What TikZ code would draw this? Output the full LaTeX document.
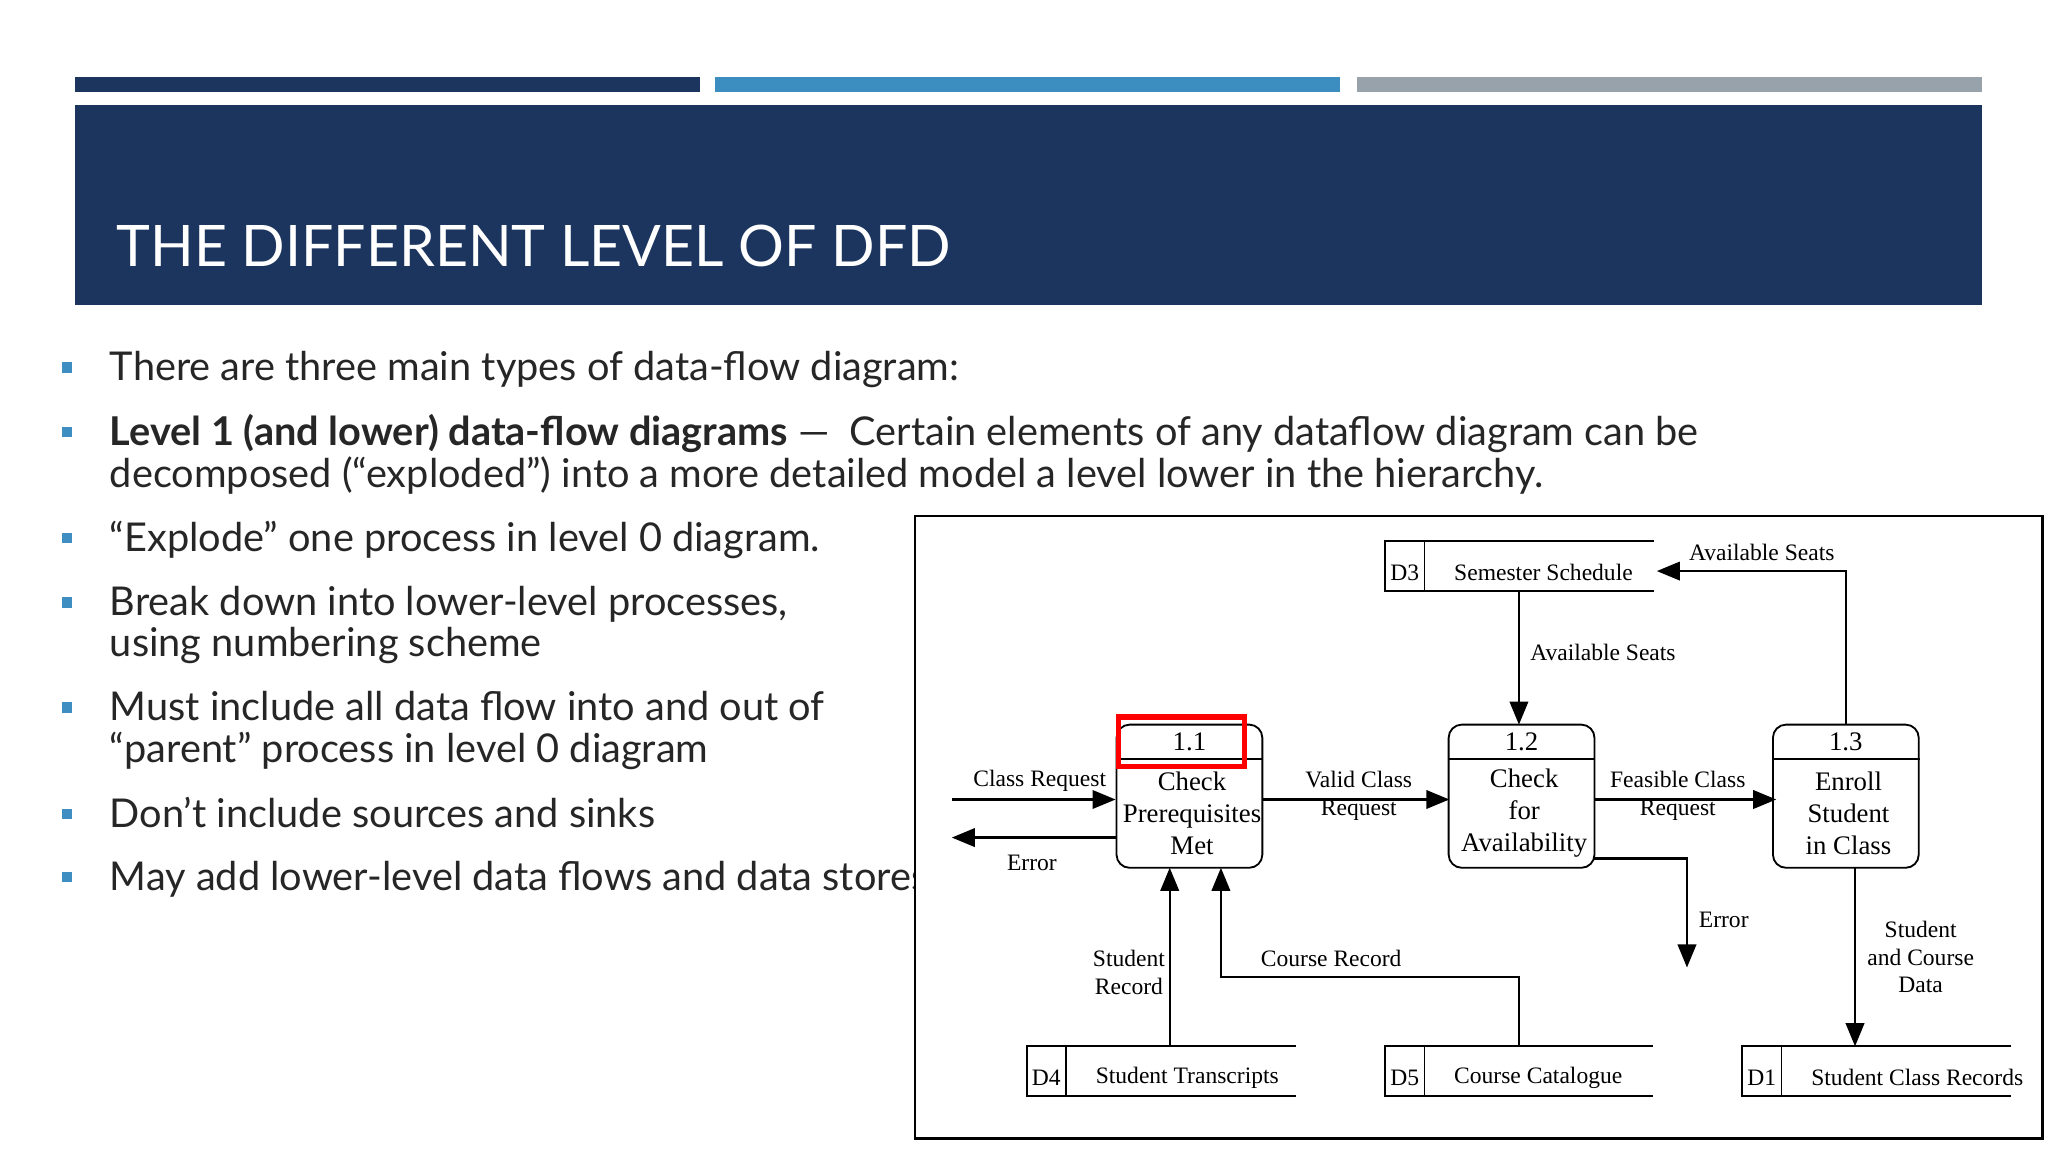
\documentclass[tikz,border=0pt]{standalone}
\usepackage{fontspec}
\setmainfont{Lato}
\newfontfamily\dfdfont{Liberation Serif}
\usetikzlibrary{arrows.meta,calc}
\definecolor{navy}{HTML}{1C355E}
\definecolor{midblue}{HTML}{3C8DC0}
\definecolor{bargray}{HTML}{98A2AA}
\definecolor{bul}{HTML}{3E8EC2}
\definecolor{txt}{HTML}{262626}
\begin{document}
\begin{tikzpicture}[x=0.01cm,y=-0.01cm,
  bullettext/.style={anchor=base west,inner sep=0,font=\fontsize{8.6}{8.6}\selectfont,text=txt,align=left},
  bsq/.style={fill=bul,minimum size=0.08cm,inner sep=0},
  proc/.style={draw,rounded corners=0.1cm,minimum width=1.11cm,minimum height=1.09cm,inner sep=0},
  flow/.style={-{Triangle[length=5,width=4]},line width=0.5pt},
  lbl/.style={font=\dfdfont\fontsize{5.1}{6}\selectfont,inner sep=0,align=center},
  slbl/.style={font=\dfdfont\fontsize{5.1}{6}\selectfont,inner sep=0},
  ptxt/.style={font=\dfdfont\fontsize{5.8}{7}\selectfont,inner sep=0,align=center}]
\useasboundingbox (0,0) rectangle (1560,877);
\fill[white] (0,0) rectangle (1560,877);
% bars
\fill[navy] (57,59) rectangle (533,70);
\fill[midblue] (545,59) rectangle (1021,70);
\fill[bargray] (1034,59) rectangle (1510,70);
\fill[navy] (57,80) rectangle (1510,232);
\node[anchor=base west,inner sep=0,text=white,font=\fontsize{12.4}{12.4}\selectfont] (title) at (88,203) {THE DIFFERENT LEVEL OF DFD};
% bullets
\foreach \yy in {280,329,410,459,539,620,668} \node[bsq] at (51,\yy) {};
\node[bullettext] (b1) at (83,290) {There are three main types of data-flow diagram:};
\node[bullettext] (b2) at (83,339) {\textbf{Level 1 (and lower) data-flow diagrams} —\enspace Certain elements of any dataflow diagram can be};
\node[bullettext] (b2b) at (83,371) {decomposed (“exploded”) into a more detailed model a level lower in the hierarchy.};
\node[bullettext] (b3) at (83,420) {“Explode” one process in level 0 diagram.};
\node[bullettext] (b4) at (83,469) {Break down into lower-level processes,};
\node[bullettext] (b4b) at (83,500) {using numbering scheme};
\node[bullettext] (b5) at (83,549) {Must include all data flow into and out of};
\node[bullettext] (b5b) at (83,581) {“parent” process in level 0 diagram};
\node[bullettext] (b6) at (83,630) {Don’t include sources and sinks};
\node[bullettext] (b7) at (83,678) {May add lower-level data flows and data stores};
% diagram frame
\draw[line width=0.6pt,fill=white] (697,393) rectangle (1556,867);
% processes
\node[proc] (p11) at (906,606.5) {};
\node[proc] (p12) at (1159,606.5) {};
\node[proc] (p13) at (1406,606.5) {};
\foreach \p/\n/\t in {p11/1.1/{Check\\Prerequisites\\Met},p12/1.2/{Check\\for\\Availability},p13/1.3/{Enroll\\Student\\in Class}}{
  \draw ($(\p.north west)+(0,27)$) -- ($(\p.north east)+(0,27)$);
  \node[ptxt] at ($(\p.north)+(0,14)$) {\n};
  \node[ptxt] at ($(\p.center)+(2,13)$) {\t};
}
\draw[red,line width=1.2pt] (852,546) rectangle (948,584);
% stores
\foreach \nm/\xa/\xb/\yt/\id/\t in {d3/1055/1260/412/D3/Semester Schedule,d4/782/987/797/D4/Student Transcripts,d5/1055/1259/797/D5/Course Catalogue,d1/1327/1532/797/D1/Student Class Records}{
  \node[inner sep=0,minimum width=2.05cm,minimum height=0.38cm,anchor=north west] (\nm) at (\xa,\yt) {};
  \draw (\xb,\yt) -- (\xa,\yt) -- (\xa,\yt+38) -- (\xb,\yt+38);
  \draw (\xa+30,\yt) -- (\xa+30,\yt+38);
  \node[slbl] at (\xa+15,\yt+24) {\id};
  \node[slbl,anchor=west] at (\xa+52,\yt+24) {\t};
}
% flows
\coordinate (cin) at (725,609);
\coordinate (cout) at (725,638);
\coordinate (err) at (1285,737);
\draw[flow] (cin) -- (cin -| p11.west);
\node[lbl] at (792,595) {Class Request};
\draw[flow] (cout -| p11.west) -- (cout);
\node[lbl] at (786,657) {Error};
\draw[flow] (962,609) -- (1104,609);
\node[lbl] at (1035,606) {Valid Class\\Request};
\draw[flow] (1214,609) -- (1353,609);
\node[lbl] at (1278,606) {Feasible Class\\Request};
\draw[flow] (1214,654) -| (err);
\node[lbl] at (1313,701) {Error};
\draw[flow] (1157,450) -- (1157,552);
\node[lbl] at (1221,497) {Available Seats};
\draw[flow] (1406,552) |- (1262,435);
\node[lbl] at (1342,421) {Available Seats};
\draw[flow] (1413,661) -- (1413,797);
\node[lbl] at (1463,729) {Student\\and Course\\Data};
\draw[flow] (891,797) -- (891,661);
\node[lbl,anchor=east] at (888,741) {Student\\Record};
\draw[flow] (1157,797) -- (1157,744) -- (930,744) -- (930,661);
\node[lbl] at (1014,730) {Course Record};
\end{tikzpicture}
\end{document}
